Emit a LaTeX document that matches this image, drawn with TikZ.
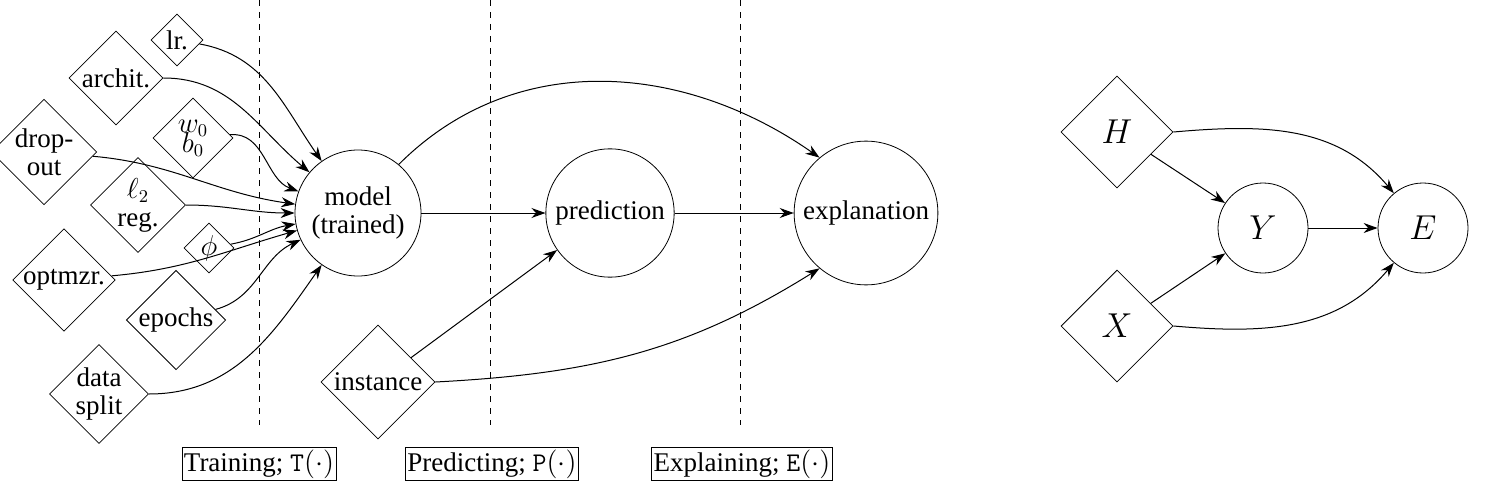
\documentclass[tikz,border=0pt]{standalone}
\usepackage{fontspec}
\setmainfont{Liberation Serif}
\usetikzlibrary{shapes.geometric,arrows.meta}
\begin{document}
\begin{tikzpicture}[x=0.5pt,y=-0.5pt,
  every node/.style={font=\fontsize{13.5}{14}\selectfont},
  dia/.style={draw,diamond,aspect=1,inner sep=0pt,align=center,minimum size=#1*0.5pt},
  circ/.style={draw,circle,align=center,minimum size=#1*0.5pt},
  lab/.style={draw,inner sep=1pt,line width=0.4pt},
  arr/.style={-{Stealth[length=7pt,width=5pt]},line width=0.5pt},
  sep/.style={dashed,line width=0.5pt}]
\useasboundingbox (0,0) rectangle (1492,481);
% left part
\node[dia=52] (lr) at (177,40) {lr.};
\node[dia=94] (arch) at (116,78) {archit.};
\node[dia=80] (wb) at (193,138) {$w_0$\\[-4pt]$b_0$};
\node[dia=94] (drop) at (44,152) {drop-\\out};
\node[dia=84] (l2) at (138,205) {$\ell_2$\\reg.};
\node[dia=50] (phi) at (209,248) {$\phi$};
\node[dia=98] (opt) at (64,280) {optmzr.};
\node[dia=92] (ep) at (176,320) {epochs};
\node[dia=92] (ds) at (99,394) {data\\split};
\node[circ=126] (model) at (358,213) {model\\(trained)};
\node[circ=128] (pred) at (610,213) {prediction};
\node[circ=142] (expl) at (866,213) {explanation};
\node[dia=114] (inst) at (378,382) {instance};
\coordinate (t1) at (259,0); \coordinate (t2) at (259,425);
\coordinate (p1) at (490,0); \coordinate (p2) at (490,425);
\coordinate (e1) at (740,0); \coordinate (e2) at (740,425);
\draw[sep] (t1) -- (t2); \draw[sep] (p1) -- (p2); \draw[sep] (e1) -- (e2);
\node[lab] (lt) at (259,464) {Training; \texttt{T}$(\cdot)$};
\node[lab] (lp) at (492,464) {Predicting; \texttt{P}$(\cdot)$};
\node[lab] (le) at (742,464) {Explaining; \texttt{E}$(\cdot)$};
\draw[arr] (lr) to[out=-10,in=125] (model);
\draw[arr] (arch) to[out=0,in=140] (model);
\draw[arr] (wb) to[out=5,in=160] (model);
\draw[arr] (drop) to[out=-5,in=172] (model);
\draw[arr] (l2) to[out=0,in=180] (model);
\draw[arr] (phi) to[out=10,in=190] (model);
\draw[arr] (opt) to[out=5,in=196] (model);
\draw[arr] (ep) to[out=15,in=205] (model);
\draw[arr] (ds) to[out=0,in=235] (model);
\draw[arr] (model) -- (pred);
\draw[arr] (pred) -- (expl);
\draw[arr] (model.50) to[out=45,in=145] (expl.130);
\draw[arr] (inst) -- (pred.215);
\draw[arr] (inst.east) to[out=3,in=212] (expl.230);
% right part
\node[dia=112,font=\fontsize{17}{18}\selectfont] (H) at (1117,132) {$H$};
\node[dia=112,font=\fontsize{17}{18}\selectfont] (X) at (1117,326) {$X$};
\node[circ=90,font=\fontsize{17}{18}\selectfont] (Y) at (1263,228) {$Y$};
\node[circ=90,font=\fontsize{17}{18}\selectfont] (E) at (1423,228) {$E$};
\draw[arr] (H) -- (Y);
\draw[arr] (X) -- (Y);
\draw[arr] (Y) -- (E);
\draw[arr] (H.east) to[out=5,in=130] (E);
\draw[arr] (X.east) to[out=-5,in=230] (E);
\end{tikzpicture}
\end{document}
